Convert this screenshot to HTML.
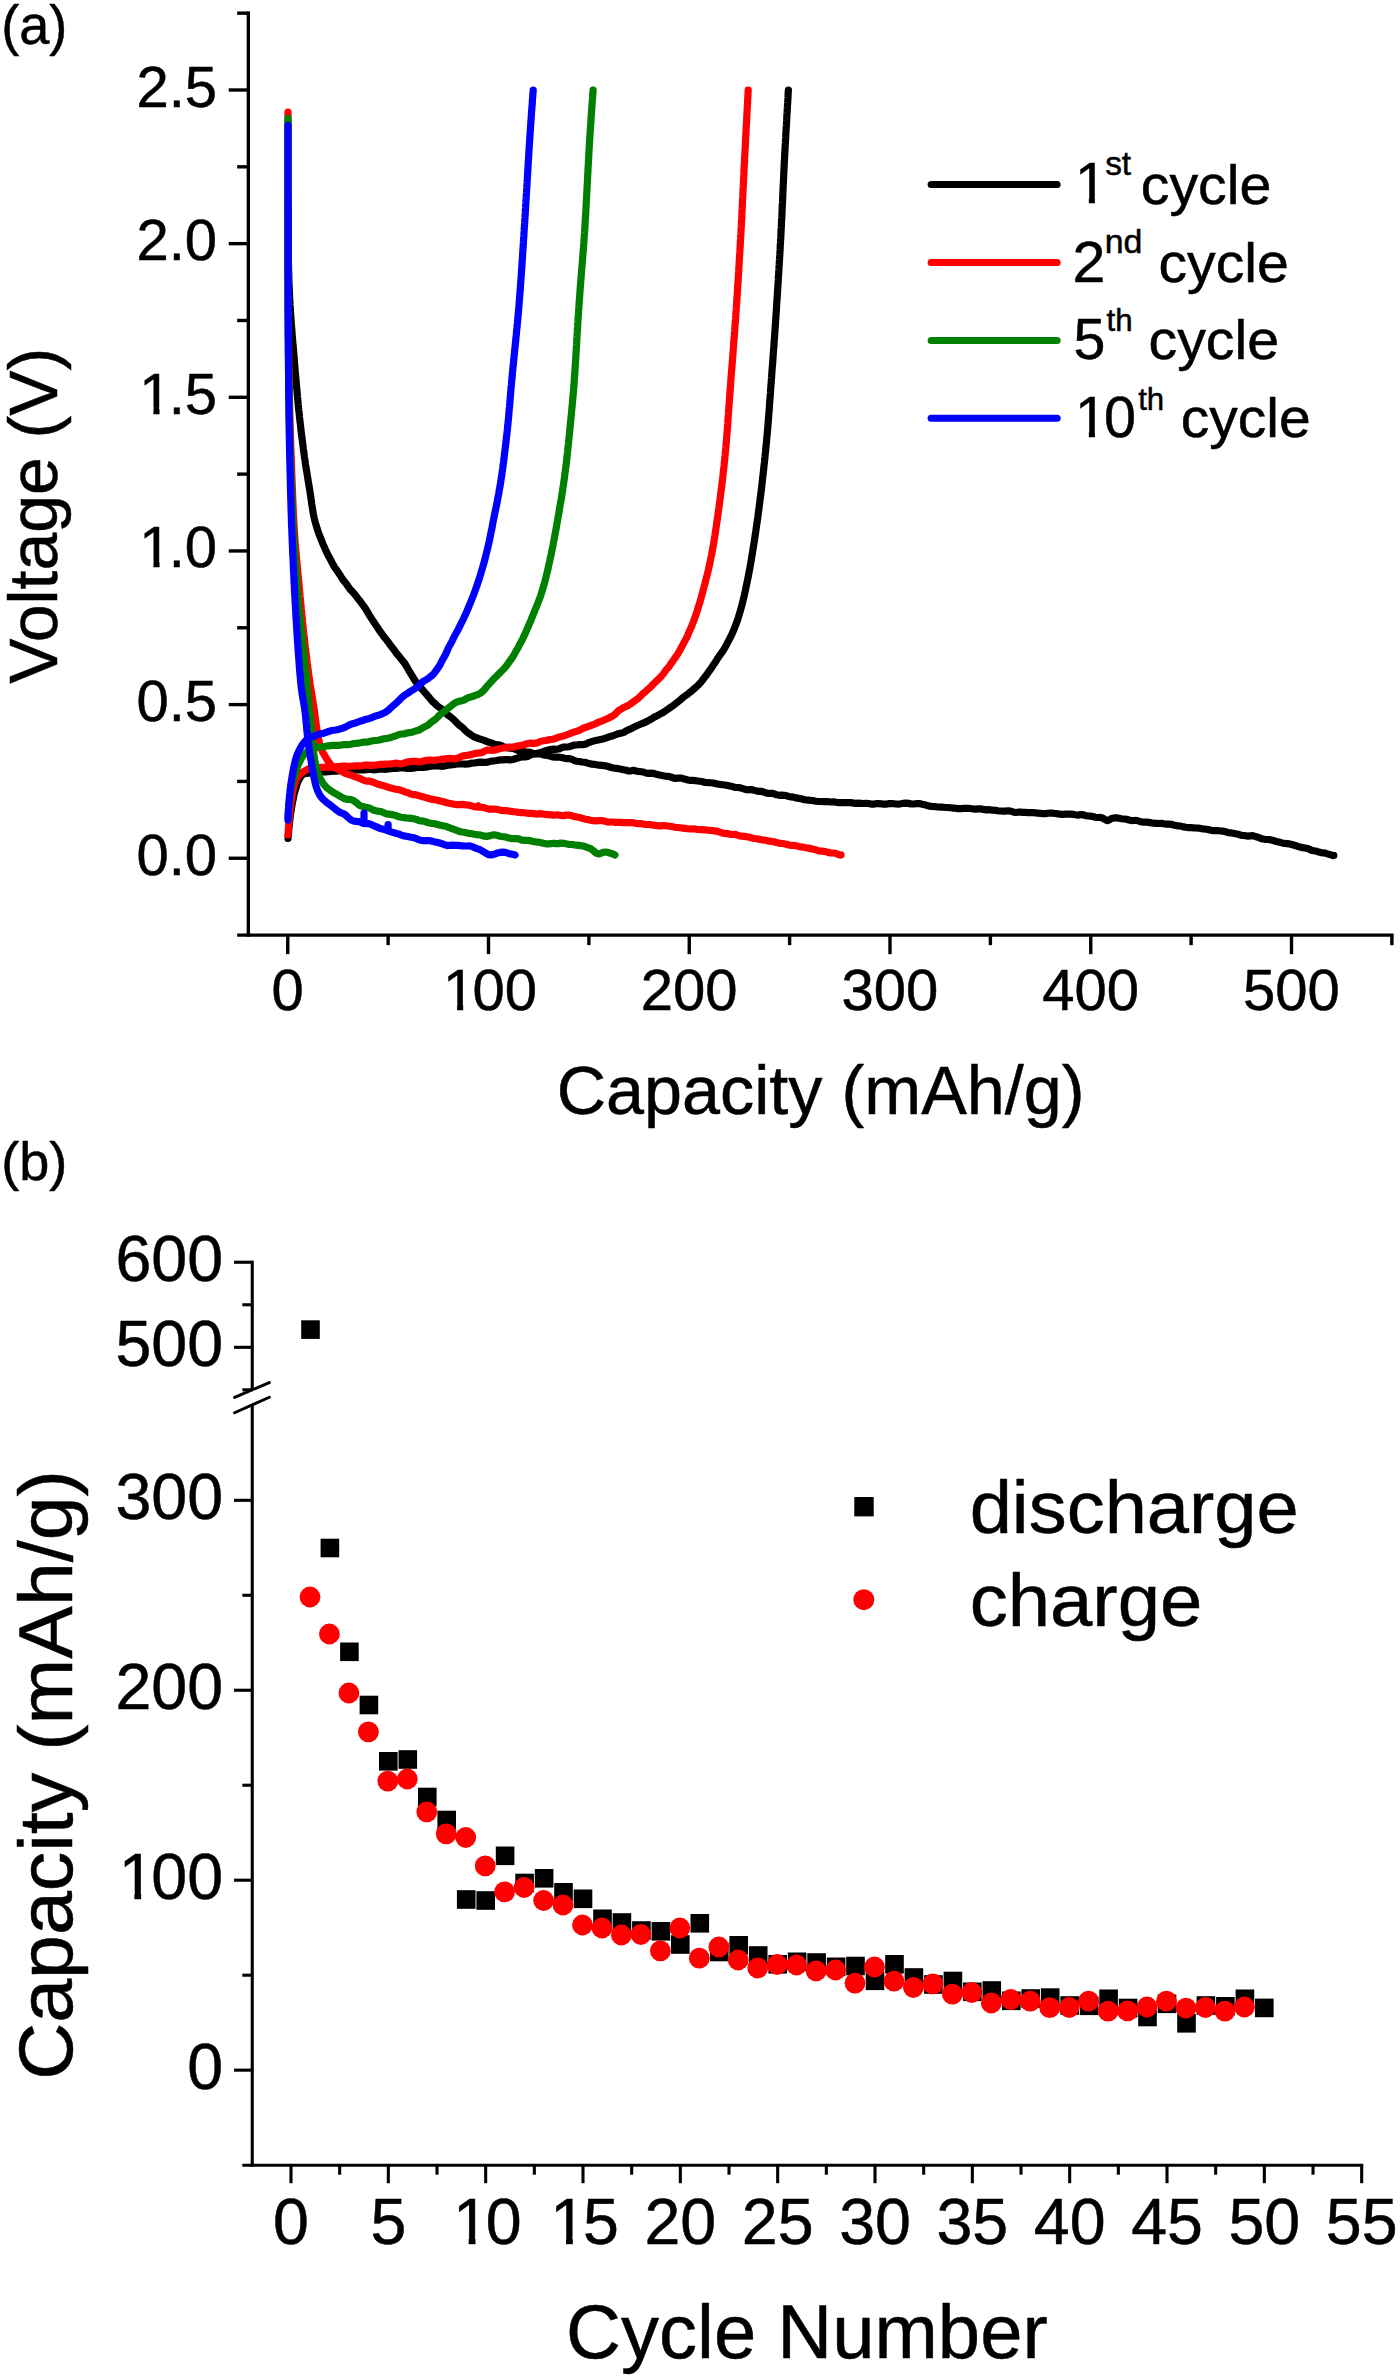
<!DOCTYPE html>
<html lang="en"><head><meta charset="utf-8"><title>Figure</title>
<style>html,body{margin:0;padding:0;background:#fff}svg{display:block}text{font-family:'Liberation Sans', Arial, Helvetica, sans-serif;fill:#000;stroke:#000;stroke-width:0.5px;}</style></head><body>
<svg width="1400" height="2379" viewBox="0 0 1400 2379">
<rect width="1400" height="2379" fill="#fff"/>
<g id="panel-a">
<text x="1.22" y="44.03" font-size="54.80" textLength="66.15" lengthAdjust="spacingAndGlyphs">(a)</text>
<g fill="none" stroke-linecap="round" stroke-linejoin="round" stroke-width="7.2">
<path d="M288.0,200.0 288.0,202.5 288.0,205.0 288.0,207.5 288.0,210.0 288.0,212.5 288.1,215.0 288.1,217.5 288.1,220.0 288.1,222.5 288.1,225.0 288.1,227.5 288.1,230.0 288.1,232.5 288.1,235.0 288.1,237.5 288.2,240.0 288.2,242.5 288.2,245.0 288.2,247.5 288.2,250.0 288.3,252.5 288.3,255.0 288.3,257.5 288.4,260.0 288.4,262.5 288.5,265.0 288.5,267.5 288.6,270.0 288.7,272.5 288.7,275.0 288.8,277.5 288.9,280.0 289.0,282.5 289.1,285.0 289.2,287.5 289.3,290.0 289.4,292.5 289.5,295.0 289.6,297.5 289.8,300.0 289.9,302.5 290.0,305.0 290.2,307.4 290.3,309.9 290.5,312.4 290.7,314.9 290.8,317.4 291.0,319.9 291.2,322.4 291.4,324.9 291.6,327.4 291.8,329.9 292.0,332.4 292.2,334.9 292.4,337.4 292.6,339.9 292.8,342.4 293.1,344.8 293.3,347.3 293.5,349.8 293.7,352.3 293.9,354.8 294.1,357.3 294.3,359.8 294.5,362.3 294.7,364.8 294.9,367.3 295.1,369.8 295.3,372.2 295.5,374.8 295.8,377.3 296.0,379.7 296.2,382.2 296.4,384.7 296.6,387.2 296.9,389.7 297.1,392.2 297.3,394.6 297.5,397.1 297.8,399.6 298.0,402.1 298.2,404.6 298.5,407.2 298.7,409.6 299.0,412.1 299.3,414.5 299.5,417.1 299.8,419.6 300.1,422.1 300.4,424.6 300.7,427.0 300.9,429.5 301.2,432.0 301.5,434.5 301.8,436.9 302.2,439.4 302.5,441.9 302.8,444.4 303.1,446.9 303.4,449.3 303.8,451.8 304.1,454.3 304.4,456.8 304.8,459.3 305.2,461.7 305.5,464.2 305.9,466.7 306.3,469.1 306.7,471.5 307.1,474.0 307.5,476.5 307.9,479.0 308.3,481.5 308.7,483.9 309.1,486.3 309.5,488.8 309.9,491.3 310.3,493.8 310.7,496.2 311.0,498.7 311.4,501.3 311.7,503.8 312.1,506.3 312.5,508.8 312.9,511.2 313.3,513.6 313.8,516.1 314.3,518.5 314.9,520.9 315.6,523.4 316.3,525.9 317.0,528.2 317.8,530.5 318.6,532.9 319.5,535.3 320.4,537.6 321.3,539.8 322.2,542.2 323.2,544.7 324.2,546.8 325.2,549.1 326.2,551.4 327.3,553.6 328.4,555.8 329.5,557.8 330.7,559.9 331.9,562.3 333.2,564.9 334.5,567.1 335.8,568.8 337.1,570.7 338.5,572.8 339.9,574.9 341.3,577.2 342.8,579.5 344.3,581.4 345.8,583.2 347.3,585.3 348.8,587.6 350.3,589.5 351.9,591.1 353.5,592.9 355.1,594.8 356.7,596.9 358.3,599.0 359.9,600.9 361.4,603.0 362.8,604.9 364.2,606.7 365.6,608.8 366.9,611.1 368.3,613.4 369.6,615.6 370.9,617.6 372.2,619.6 373.5,621.6 374.9,623.6 376.3,625.8 377.7,627.8 379.1,630.0 380.5,632.1 382.0,634.0 383.4,636.0 384.9,638.0 386.4,639.8 387.9,641.7 389.4,643.8 390.9,645.9 392.4,647.7 394.0,649.7 395.6,652.1 397.2,654.2 398.8,656.0 400.4,658.0 401.9,659.9 403.4,661.7 404.9,663.6 406.2,665.8 407.5,668.1 408.7,670.2 409.9,672.2 411.1,674.3 412.4,676.3 413.7,678.5 415.2,680.8 416.7,682.9 418.2,684.9 419.8,686.9 421.4,688.5 423.0,690.3 424.6,692.2 426.3,694.2 428.0,696.2 429.7,698.2 431.4,700.3 433.2,702.2 435.0,703.6 436.8,705.4 438.7,707.0 440.6,708.1 442.5,709.6 444.4,711.7 446.2,713.7 448.1,715.2 450.0,716.5 451.9,718.0 453.7,719.7 455.6,721.5 457.4,723.4 459.2,725.1 461.1,726.5 463.0,728.1 464.9,730.1 466.8,731.9 468.8,733.3 470.8,734.7 472.8,736.1 474.9,737.2 477.1,738.0 479.4,738.8 481.8,739.6 484.2,740.4 486.6,741.4 489.0,742.3 491.4,742.9 493.8,743.8 496.2,744.6 498.6,744.8 501.0,745.5 503.4,746.7 505.8,747.4 508.2,747.9 510.6,748.2 513.1,748.5 515.5,749.4 518.0,750.4 520.4,751.0 522.8,751.5 525.3,752.0 527.7,752.0 530.2,752.4 532.7,753.4 535.1,753.8 537.6,753.6 540.0,753.8 542.5,754.6 545.0,755.2 547.4,755.5 549.9,756.1 552.4,756.9 554.8,757.1 557.3,757.0 559.8,757.3 562.3,757.6 564.7,758.3 567.2,758.6 569.6,758.6 572.1,759.4 574.5,760.7 577.0,761.2 579.4,761.5 581.9,762.0 584.3,762.3 586.8,762.8 589.2,763.6 591.7,764.2 594.1,764.3 596.6,764.7 599.1,765.2 601.5,765.4 604.0,765.6 606.4,766.0 608.9,766.7 611.4,767.5 613.8,768.0 616.3,768.4 618.8,768.8 621.2,769.3 623.7,769.8 626.2,770.3 628.6,771.0 631.1,770.8 633.6,770.3 636.0,770.9 638.5,771.5 641.0,771.7 643.4,772.0 645.9,773.0 648.4,773.4 650.8,773.1 653.3,773.3 655.8,774.1 658.2,774.7 660.7,775.3 663.1,775.8 665.6,776.1 668.1,776.3 670.6,776.9 673.0,777.9 675.5,778.4 678.0,778.1 680.5,778.0 682.9,778.6 685.4,779.3 687.9,780.0 690.3,780.4 692.8,780.4 695.3,780.6 697.8,781.0 700.3,781.3 702.7,781.8 705.2,782.5 707.7,782.7 710.2,782.7 712.6,783.0 715.1,783.4 717.6,784.0 720.0,784.4 722.5,784.7 725.0,785.0 727.4,785.5 729.9,786.0 732.3,786.6 734.8,787.3 737.2,787.5 739.7,787.7 742.2,788.4 744.6,789.2 747.1,789.8 749.6,789.7 752.0,789.7 754.5,790.4 757.0,791.1 759.4,791.3 761.9,791.4 764.3,792.3 766.8,793.1 769.3,793.4 771.8,793.4 774.2,793.8 776.7,794.8 779.2,795.3 781.6,795.2 784.1,795.3 786.5,795.8 789.0,796.4 791.4,796.9 793.9,797.3 796.3,797.9 798.8,798.4 801.2,798.8 803.7,799.5 806.2,800.0 808.6,800.1 811.1,800.5 813.6,800.7 816.1,801.2 818.6,801.5 821.1,801.5 823.6,801.6 826.1,801.5 828.6,801.7 831.1,802.0 833.6,801.9 836.1,802.2 838.6,802.7 841.1,802.7 843.5,802.7 846.0,802.7 848.5,802.6 851.0,802.6 853.5,803.2 856.0,803.4 858.5,803.2 861.0,803.3 863.5,803.5 866.0,803.3 868.5,803.5 871.0,804.1 873.5,804.1 876.0,803.7 878.5,803.6 881.0,803.8 883.5,804.1 886.0,804.1 888.5,803.7 891.0,803.5 893.5,803.7 896.0,804.0 898.5,804.1 901.0,803.8 903.5,803.3 906.0,803.1 908.5,803.4 911.0,803.9 913.5,804.0 916.0,803.7 918.5,803.5 921.0,803.9 923.3,804.6 925.7,805.1 928.2,805.8 930.7,806.4 933.2,806.5 935.6,806.7 938.1,807.0 940.6,807.1 943.1,807.2 945.6,807.5 948.1,807.5 950.6,807.8 953.1,808.1 955.6,808.2 958.1,808.6 960.6,808.7 963.1,808.4 965.6,808.4 968.1,808.3 970.6,808.5 973.1,809.0 975.6,809.1 978.1,808.9 980.6,808.8 983.1,809.4 985.5,809.8 988.0,809.7 990.5,809.9 993.0,810.2 995.5,810.4 998.0,810.8 1000.5,811.0 1003.0,811.2 1005.5,811.1 1008.0,810.8 1010.5,811.1 1013.0,811.9 1015.5,812.5 1018.0,812.2 1020.5,812.2 1023.0,812.4 1025.5,812.4 1028.0,812.6 1030.5,812.6 1033.0,812.5 1035.5,812.9 1038.0,813.1 1040.5,813.3 1043.0,813.7 1045.4,813.6 1047.9,813.3 1050.4,813.0 1052.9,813.2 1055.4,813.5 1057.9,813.9 1060.4,814.3 1062.9,814.3 1065.4,814.2 1067.9,814.2 1070.4,814.2 1072.9,814.3 1075.4,814.8 1077.9,815.1 1080.4,814.6 1082.9,814.7 1085.4,815.5 1087.9,816.0 1090.4,816.1 1092.8,816.5 1095.3,817.2 1097.8,817.5 1100.2,817.4 1102.6,818.0 1104.8,819.4 1107.1,820.7 1109.3,819.8 1111.5,818.5 1114.0,817.9 1116.5,817.9 1119.0,818.3 1121.5,818.7 1124.0,819.0 1126.5,819.3 1128.9,820.0 1131.4,820.6 1133.9,820.5 1136.4,820.4 1138.9,821.1 1141.3,821.9 1143.8,822.2 1146.3,822.2 1148.8,822.4 1151.3,822.9 1153.8,823.2 1156.2,823.3 1158.7,823.5 1161.2,823.4 1163.7,823.8 1166.2,824.2 1168.6,824.2 1171.1,824.3 1173.6,825.0 1176.1,825.6 1178.6,825.8 1181.0,826.2 1183.5,826.9 1186.0,827.3 1188.5,827.6 1191.0,827.7 1193.4,827.8 1195.9,828.0 1198.4,828.1 1200.9,828.5 1203.4,829.0 1205.8,829.2 1208.3,829.5 1210.8,830.2 1213.3,830.7 1215.8,830.6 1218.2,830.7 1220.7,831.0 1223.2,831.2 1225.7,831.8 1228.2,832.6 1230.6,832.8 1233.1,833.2 1235.6,833.7 1238.1,834.2 1240.5,835.1 1243.0,835.5 1245.4,835.7 1247.9,836.1 1250.3,835.9 1252.8,835.7 1255.2,836.4 1257.7,837.2 1260.1,838.1 1262.6,839.0 1265.0,839.3 1267.5,839.5 1269.9,839.7 1272.4,840.3 1274.8,841.0 1277.3,841.7 1279.7,842.2 1282.2,842.9 1284.6,843.4 1287.1,843.6 1289.5,843.9 1291.9,844.5 1294.4,845.3 1296.8,846.0 1299.2,846.8 1301.6,847.4 1304.1,847.9 1306.5,848.3 1308.9,849.0 1311.3,850.2 1313.8,850.8 1316.2,851.1 1318.6,852.0 1321.0,852.6 1323.4,852.8 1325.9,853.3 1328.3,854.1 1330.7,854.8 1333.1,855.6 1333.8,855.5" stroke="#000"/>
<path d="M288.0,838.5 288.2,836.0 288.5,833.5 288.7,831.0 288.9,828.6 289.2,826.1 289.4,823.6 289.7,821.0 290.0,818.6 290.3,816.1 290.6,813.6 291.0,811.2 291.4,808.7 291.8,806.2 292.2,803.7 292.7,801.3 293.2,798.9 293.7,796.4 294.2,793.9 294.9,791.4 295.5,789.2 296.2,786.9 296.9,784.5 297.8,782.0 298.8,779.9 300.1,777.7 301.7,775.5 303.6,774.0 305.9,773.5 308.3,773.2 310.8,772.7 313.3,772.6 315.8,772.5 318.3,772.2 320.8,771.8 323.3,771.9 325.8,771.8 328.3,771.7 330.8,771.5 333.3,771.2 335.8,771.2 338.3,770.9 340.8,770.5 343.3,770.5 345.7,770.5 348.2,769.7 350.7,769.0 353.2,769.3 355.7,769.8 358.2,769.8 360.7,769.7 363.2,769.8 365.7,769.8 368.2,769.4 370.7,769.4 373.2,769.8 375.7,769.7 378.2,769.2 380.7,768.9 383.2,769.1 385.7,769.3 388.2,769.0 390.7,768.6 393.2,768.5 395.7,768.4 398.2,768.1 400.7,767.8 403.2,767.8 405.7,768.1 408.2,768.4 410.7,768.5 413.2,768.1 415.7,767.6 418.2,767.4 420.7,767.5 423.2,767.4 425.7,767.1 428.2,766.6 430.7,766.2 433.2,765.9 435.7,765.7 438.1,765.9 440.6,766.2 443.1,766.3 445.6,765.8 448.1,765.3 450.6,764.9 453.1,764.7 455.6,764.3 458.1,763.9 460.6,764.0 463.1,764.0 465.5,764.1 468.0,764.0 470.5,763.4 473.0,763.0 475.5,762.8 478.0,762.4 480.5,762.2 483.0,762.3 485.4,762.3 487.9,762.1 490.4,761.4 492.9,761.0 495.4,760.7 497.9,760.3 500.4,759.9 502.9,759.9 505.4,759.7 507.8,759.7 510.3,759.9 512.8,759.5 515.3,758.7 517.8,758.0 520.2,757.3 522.7,757.0 525.1,756.9 527.5,756.4 529.9,755.3 532.3,754.3 534.7,753.7 537.1,753.3 539.5,752.9 541.9,752.1 544.4,751.3 546.8,750.5 549.3,749.8 551.7,749.3 554.2,749.2 556.6,749.3 559.1,749.0 561.5,747.7 564.0,747.0 566.5,747.0 568.9,746.7 571.4,746.0 573.8,745.2 576.3,745.0 578.7,744.7 581.2,744.5 583.6,744.6 586.1,744.0 588.5,742.7 591.0,741.8 593.4,741.1 595.8,740.4 598.2,739.9 600.6,739.4 603.0,738.9 605.4,738.2 607.8,737.3 610.1,736.6 612.5,736.0 614.9,735.0 617.2,734.1 619.6,733.5 621.9,733.0 624.3,732.1 626.6,730.7 628.9,729.6 631.3,728.6 633.6,727.4 635.8,726.3 638.1,725.3 640.4,724.3 642.6,723.4 644.9,722.4 647.1,721.4 649.3,720.2 651.6,718.8 653.7,717.4 655.9,716.4 658.1,715.3 660.2,714.0 662.4,712.9 664.5,711.6 666.6,710.1 668.6,708.7 670.7,707.3 672.7,705.9 674.7,704.4 676.7,702.8 678.7,701.2 680.7,699.6 682.7,697.8 684.7,696.2 686.6,695.0 688.5,693.5 690.5,691.8 692.4,690.3 694.2,688.7 696.1,687.1 697.8,685.5 699.5,683.7 701.2,681.9 702.8,679.8 704.3,677.7 705.8,675.9 707.3,673.8 708.7,671.7 710.2,669.8 711.6,667.7 713.0,665.6 714.4,663.5 715.8,661.4 717.2,659.1 718.6,657.0 720.0,655.0 721.4,653.1 722.8,651.2 724.1,649.1 725.4,646.7 726.7,644.4 727.8,642.2 729.0,640.0 730.1,637.8 731.2,635.7 732.2,633.5 733.2,631.3 734.2,628.9 735.1,626.5 736.0,624.2 736.9,621.9 737.7,619.5 738.5,617.0 739.2,614.6 739.9,612.2 740.6,609.8 741.3,607.4 741.9,605.1 742.5,602.7 743.1,600.3 743.7,597.9 744.3,595.5 744.8,593.0 745.4,590.5 745.9,587.9 746.4,585.5 746.9,583.1 747.4,580.6 747.9,578.2 748.4,575.7 748.9,573.3 749.3,570.8 749.8,568.4 750.2,565.9 750.7,563.4 751.1,561.0 751.5,558.6 751.9,556.1 752.3,553.6 752.7,551.1 753.1,548.7 753.5,546.2 753.9,543.7 754.3,541.3 754.7,538.9 755.0,536.4 755.4,533.8 755.8,531.3 756.1,528.8 756.5,526.4 756.8,523.9 757.2,521.5 757.5,519.0 757.9,516.5 758.2,514.1 758.5,511.6 758.9,509.1 759.2,506.6 759.5,504.1 759.8,501.6 760.1,499.1 760.5,496.6 760.8,494.1 761.1,491.7 761.4,489.3 761.7,486.8 762.0,484.2 762.3,481.7 762.5,479.2 762.8,476.8 763.1,474.3 763.4,471.8 763.7,469.3 763.9,466.9 764.2,464.4 764.5,461.9 764.7,459.4 765.0,456.9 765.2,454.4 765.5,451.9 765.7,449.5 766.0,447.0 766.2,444.5 766.5,442.0 766.7,439.5 766.9,437.0 767.1,434.6 767.4,432.0 767.6,429.5 767.8,427.1 768.0,424.6 768.2,422.1 768.4,419.6 768.6,417.1 768.8,414.6 769.0,412.1 769.2,409.6 769.4,407.1 769.5,404.6 769.7,402.1 769.9,399.6 770.1,397.2 770.3,394.7 770.5,392.2 770.6,389.7 770.8,387.2 771.0,384.7 771.2,382.2 771.4,379.7 771.6,377.2 771.7,374.7 771.9,372.2 772.1,369.8 772.3,367.3 772.5,364.7 772.7,362.2 772.9,359.8 773.0,357.3 773.2,354.8 773.4,352.3 773.6,349.8 773.8,347.3 774.0,344.8 774.1,342.3 774.3,339.8 774.5,337.3 774.7,334.8 774.8,332.3 775.0,329.8 775.2,327.3 775.4,324.9 775.5,322.4 775.7,319.9 775.9,317.4 776.0,314.9 776.2,312.4 776.4,309.9 776.5,307.4 776.7,304.9 776.8,302.4 777.0,299.9 777.2,297.4 777.3,294.9 777.5,292.4 777.6,289.9 777.8,287.4 778.0,284.9 778.1,282.4 778.3,280.0 778.4,277.4 778.6,274.9 778.7,272.4 778.9,270.0 779.0,267.5 779.2,265.0 779.3,262.5 779.5,260.0 779.6,257.5 779.8,255.0 779.9,252.5 780.1,250.0 780.2,247.5 780.3,245.0 780.5,242.5 780.6,240.0 780.8,237.5 780.9,235.0 781.0,232.5 781.1,230.0 781.3,227.5 781.4,225.0 781.5,222.5 781.6,220.0 781.8,217.5 781.9,215.0 782.0,212.5 782.1,210.1 782.2,207.6 782.3,205.1 782.5,202.5 782.6,200.1 782.7,197.6 782.8,195.1 782.9,192.6 783.0,190.1 783.1,187.6 783.2,185.1 783.4,182.6 783.5,180.1 783.6,177.6 783.7,175.1 783.8,172.6 783.9,170.1 784.1,167.6 784.2,165.1 784.3,162.6 784.4,160.1 784.6,157.6 784.7,155.1 784.8,152.6 785.0,150.1 785.1,147.6 785.2,145.1 785.4,142.7 785.5,140.2 785.7,137.7 785.8,135.2 785.9,132.7 786.1,130.1 786.2,127.6 786.4,125.2 786.5,122.7 786.7,120.2 786.8,117.7 786.9,115.2 787.1,112.7 787.2,110.2 787.4,107.7 787.5,105.2 787.7,102.7 787.8,100.2 788.0,97.7 788.1,95.2 788.2,92.7 788.4,90.2 788.4,90.0" stroke="#000"/>
<path d="M288.0,112.0 288.0,114.5 288.0,117.0 288.0,119.5 288.0,122.0 288.0,124.5 288.0,127.0 288.0,129.5 288.0,132.0 288.0,134.5 288.0,137.0 288.0,139.5 288.0,142.0 288.0,144.5 288.0,147.0 288.0,149.5 288.0,152.0 288.0,154.5 288.0,157.0 288.0,159.5 288.0,162.0 288.0,164.5 288.0,167.0 288.0,169.5 288.0,172.0 288.0,174.5 288.0,177.0 288.0,179.5 288.0,182.0 288.0,184.5 288.0,187.0 288.0,189.5 288.0,192.0 288.0,194.5 288.0,197.0 288.0,199.5 288.0,202.0 288.0,204.5 288.0,207.0 288.0,209.5 288.0,212.0 288.0,214.5 288.0,217.0 288.0,219.5 288.0,222.0 288.0,224.5 288.0,227.0 288.0,229.5 288.0,232.0 288.0,234.5 288.0,237.0 288.0,239.5 288.0,242.0 288.0,244.5 288.0,247.0 288.0,249.5 288.0,252.0 288.0,254.5 288.0,257.0 288.0,259.5 288.0,262.0 288.0,264.5 288.0,267.0 288.0,269.5 288.0,272.0 288.1,274.5 288.1,277.0 288.1,279.5 288.1,282.0 288.1,284.5 288.1,287.0 288.1,289.5 288.1,292.0 288.1,294.5 288.1,297.0 288.2,299.5 288.2,302.0 288.2,304.5 288.2,307.0 288.2,309.5 288.2,312.0 288.3,314.5 288.3,317.0 288.3,319.5 288.3,322.0 288.3,324.5 288.4,327.0 288.4,329.5 288.4,332.0 288.4,334.5 288.5,337.0 288.5,339.5 288.5,342.0 288.6,344.5 288.6,347.0 288.6,349.5 288.7,352.0 288.7,354.5 288.7,357.0 288.8,359.5 288.8,362.0 288.8,364.5 288.9,367.0 288.9,369.5 289.0,372.0 289.0,374.5 289.0,377.0 289.1,379.5 289.1,382.0 289.2,384.5 289.2,387.0 289.3,389.5 289.3,392.0 289.4,394.5 289.4,397.0 289.5,399.5 289.5,402.0 289.6,404.5 289.7,407.0 289.7,409.5 289.8,412.0 289.8,414.5 289.9,417.0 290.0,419.5 290.0,422.0 290.1,424.5 290.2,427.0 290.3,429.5 290.3,432.0 290.4,434.5 290.5,437.0 290.6,439.5 290.7,442.0 290.7,444.5 290.8,447.0 290.9,449.5 291.0,452.0 291.1,454.5 291.2,457.0 291.3,459.5 291.4,462.0 291.5,464.5 291.6,467.0 291.6,469.5 291.7,472.0 291.8,474.4 291.9,476.9 292.0,479.5 292.1,482.0 292.2,484.5 292.3,486.9 292.4,489.4 292.5,491.9 292.6,494.4 292.7,496.9 292.8,499.4 292.9,501.9 293.0,504.4 293.1,506.9 293.2,509.4 293.3,511.9 293.4,514.4 293.6,516.9 293.7,519.4 293.8,521.9 294.0,524.4 294.1,526.9 294.3,529.4 294.4,531.9 294.6,534.4 294.8,536.9 294.9,539.4 295.1,541.9 295.3,544.3 295.5,546.8 295.7,549.4 295.9,551.8 296.2,554.3 296.4,556.8 296.6,559.3 296.8,561.8 297.1,564.3 297.3,566.8 297.5,569.3 297.8,571.8 298.0,574.2 298.2,576.7 298.5,579.2 298.7,581.7 299.0,584.2 299.2,586.7 299.4,589.2 299.7,591.6 299.9,594.1 300.1,596.6 300.4,599.2 300.6,601.7 300.8,604.2 301.1,606.7 301.3,609.1 301.6,611.6 301.8,614.1 302.0,616.5 302.3,619.0 302.5,621.6 302.8,624.1 303.1,626.5 303.3,628.9 303.6,631.4 303.8,633.9 304.1,636.4 304.4,638.9 304.7,641.5 304.9,644.0 305.2,646.4 305.5,648.9 305.8,651.4 306.1,653.9 306.4,656.3 306.7,658.8 307.0,661.3 307.3,663.7 307.7,666.2 308.0,668.7 308.3,671.2 308.6,673.7 309.0,676.2 309.3,678.6 309.7,681.1 310.0,683.5 310.4,686.1 310.8,688.6 311.2,691.0 311.6,693.4 312.0,695.9 312.4,698.3 312.8,700.7 313.2,703.2 313.6,705.7 314.0,708.2 314.3,710.6 314.7,713.1 315.0,715.6 315.3,718.1 315.6,720.6 316.0,723.1 316.3,725.6 316.7,728.0 317.1,730.5 317.5,733.0 317.9,735.5 318.3,737.9 318.8,740.4 319.4,742.8 320.1,745.4 320.9,747.7 321.8,750.0 322.8,752.3 324.0,754.4 325.2,756.4 326.4,758.5 327.8,760.7 329.3,762.8 331.0,765.0 332.9,766.7 335.0,767.9 337.3,768.9 339.5,769.9 341.7,771.3 343.9,772.6 346.1,773.6 348.3,774.3 350.6,775.0 353.0,776.0 355.3,776.9 357.7,777.6 360.1,778.6 362.5,779.7 364.9,780.7 367.3,781.1 369.7,781.2 372.1,781.8 374.5,782.7 376.9,783.8 379.3,784.6 381.7,785.2 384.1,785.8 386.5,786.7 388.9,787.5 391.3,788.1 393.7,788.8 396.0,789.3 398.5,789.6 400.9,790.2 403.3,791.2 405.7,792.1 408.1,792.8 410.5,793.9 412.9,794.6 415.4,794.7 417.8,795.3 420.2,796.1 422.6,796.7 425.1,797.4 427.5,798.0 429.9,798.8 432.3,799.4 434.7,799.7 437.1,800.2 439.5,800.8 442.0,801.4 444.4,802.0 446.8,802.7 449.2,803.3 451.7,803.7 454.2,804.3 456.6,804.7 459.1,804.6 461.6,804.4 464.1,804.6 466.6,805.0 469.0,805.2 471.5,805.9 474.0,806.6 476.5,807.0 479.0,807.1 481.4,807.2 483.9,807.6 486.4,808.4 488.9,809.1 491.4,809.1 493.8,809.0 496.3,809.3 498.8,809.8 501.3,810.5 503.7,810.7 506.2,810.6 508.7,811.0 511.2,811.4 513.7,811.7 516.2,812.0 518.6,812.4 521.1,812.7 523.6,812.7 526.1,813.0 528.6,813.4 531.1,813.4 533.6,813.6 536.0,814.1 538.5,813.9 541.0,813.7 543.5,814.1 546.0,814.4 548.5,814.6 551.0,814.8 553.5,815.1 556.0,815.0 558.5,814.9 561.0,815.5 563.5,815.7 566.0,815.1 568.5,815.0 570.9,815.5 573.4,816.2 575.8,816.8 578.3,817.3 580.7,817.8 583.1,818.6 585.6,819.2 588.0,819.6 590.5,820.2 593.0,820.7 595.5,820.8 598.0,820.7 600.5,820.6 602.9,820.7 605.4,821.4 607.9,822.1 610.4,822.0 612.9,822.0 615.4,822.4 617.9,822.4 620.4,822.4 622.9,822.6 625.4,822.6 627.9,822.6 630.4,822.6 632.9,822.7 635.4,823.2 637.9,823.7 640.4,823.6 642.8,823.9 645.3,824.5 647.8,824.5 650.3,824.6 652.8,825.0 655.3,825.4 657.8,825.8 660.3,825.8 662.7,825.7 665.2,825.7 667.7,826.0 670.2,826.3 672.7,826.8 675.2,827.3 677.7,827.5 680.2,827.8 682.6,828.1 685.1,828.4 687.6,828.7 690.1,829.0 692.6,828.9 695.1,829.0 697.6,829.5 700.1,829.7 702.6,829.6 705.0,829.8 707.5,830.1 710.0,830.3 712.5,830.6 715.0,830.9 717.5,831.4 719.9,832.2 722.4,833.0 724.9,833.5 727.3,833.6 729.8,834.1 732.3,834.5 734.7,834.3 737.2,835.0 739.6,835.9 742.1,836.2 744.5,836.4 747.0,836.8 749.4,837.3 751.9,837.9 754.3,838.5 756.8,838.8 759.2,839.3 761.7,839.8 764.1,840.0 766.6,840.5 769.1,841.2 771.5,841.4 774.0,841.8 776.4,842.5 778.9,843.1 781.4,843.5 783.8,843.7 786.3,844.2 788.7,845.0 791.2,845.4 793.7,845.4 796.1,845.7 798.6,846.4 801.0,847.0 803.5,847.2 806.0,847.7 808.4,848.1 810.9,848.6 813.3,849.3 815.8,849.8 818.2,850.7 820.7,851.2 823.1,851.2 825.6,851.6 828.0,852.4 830.5,852.9 832.9,853.0 835.4,853.3 837.8,854.3 840.3,855.1 841.0,855.0" stroke="#f00"/>
<path d="M288.0,835.0 288.2,832.5 288.3,830.0 288.5,827.5 288.7,825.0 288.9,822.5 289.1,820.0 289.3,817.6 289.5,815.1 289.8,812.6 290.1,810.1 290.4,807.7 290.7,805.2 291.0,802.6 291.4,800.2 291.8,797.7 292.2,795.3 292.7,792.9 293.2,790.4 293.8,787.9 294.4,785.5 295.1,783.1 296.0,780.7 296.9,778.5 298.1,776.4 299.7,774.7 301.5,772.8 303.6,771.5 305.8,770.4 308.1,768.9 310.5,768.4 313.0,768.5 315.5,768.4 318.0,768.0 320.5,767.4 323.0,767.3 325.5,767.2 328.0,767.1 330.5,767.3 332.9,767.3 335.4,766.9 337.9,766.5 340.4,766.4 342.9,766.1 345.4,766.0 347.9,766.4 350.4,766.4 352.9,766.1 355.4,765.8 357.9,765.8 360.4,765.9 362.9,765.5 365.4,765.0 367.9,765.1 370.4,765.4 372.9,765.4 375.4,765.2 377.9,764.7 380.4,764.4 382.9,764.4 385.4,764.2 387.9,764.0 390.4,763.9 392.9,763.6 395.3,763.2 397.8,763.4 400.3,764.0 402.8,763.5 405.3,762.5 407.8,761.9 410.3,761.6 412.8,761.4 415.3,761.3 417.8,761.6 420.3,761.8 422.8,761.2 425.2,760.6 427.7,760.2 430.2,760.0 432.7,760.3 435.2,760.3 437.7,759.8 440.2,759.5 442.7,759.1 445.2,758.8 447.6,758.6 450.1,758.4 452.6,758.7 455.1,758.8 457.6,758.2 460.1,757.1 462.5,756.0 464.9,755.6 467.3,755.4 469.8,754.9 472.2,754.3 474.6,753.6 477.1,753.1 479.5,752.9 482.0,752.5 484.4,751.2 486.8,750.2 489.3,750.1 491.8,750.3 494.2,750.1 496.7,749.6 499.1,748.8 501.6,748.3 504.1,747.9 506.5,747.4 509.0,747.2 511.5,747.2 513.9,746.9 516.4,746.3 518.9,745.7 521.3,745.4 523.8,744.8 526.2,744.0 528.7,743.4 531.2,743.2 533.6,743.3 536.1,743.2 538.5,742.3 541.0,741.2 543.4,740.8 545.8,740.5 548.3,739.9 550.7,739.5 553.1,739.2 555.6,738.4 558.0,737.4 560.4,736.7 562.8,736.2 565.2,735.4 567.6,734.5 569.9,733.6 572.3,732.7 574.6,731.9 577.0,731.2 579.3,730.4 581.6,729.1 583.9,728.0 586.2,727.2 588.6,726.3 590.9,725.5 593.2,724.7 595.6,723.7 597.9,722.5 600.2,721.7 602.5,720.8 604.8,719.8 607.1,718.8 609.4,717.7 611.5,716.5 613.6,715.4 615.5,713.9 617.3,711.9 619.1,710.3 621.2,709.0 623.4,707.7 625.6,706.6 627.9,705.6 630.0,704.3 632.1,702.8 634.2,701.2 636.2,699.8 638.1,698.5 640.0,696.7 641.9,694.7 643.7,693.0 645.6,691.5 647.4,689.8 649.3,688.2 651.1,686.5 652.9,684.5 654.7,682.7 656.4,681.0 658.2,679.4 659.9,677.7 661.5,676.0 663.2,674.0 664.8,671.7 666.3,669.6 667.9,667.9 669.4,666.1 670.8,663.9 672.3,661.8 673.7,659.8 675.2,657.7 676.5,655.7 677.9,653.7 679.2,651.4 680.5,649.2 681.7,646.8 682.9,644.7 684.0,642.6 685.2,640.3 686.3,638.3 687.4,636.1 688.4,633.6 689.4,631.2 690.4,629.0 691.4,626.9 692.3,624.5 693.3,622.0 694.1,619.7 695.0,617.4 695.8,615.0 696.6,612.7 697.4,610.2 698.1,607.9 698.8,605.5 699.6,603.2 700.3,600.9 700.9,598.5 701.6,596.0 702.3,593.6 702.9,591.1 703.6,588.7 704.2,586.3 704.9,583.9 705.5,581.4 706.1,579.0 706.7,576.7 707.3,574.3 707.9,571.8 708.5,569.3 709.0,566.8 709.6,564.4 710.1,562.0 710.6,559.5 711.1,557.1 711.6,554.7 712.1,552.3 712.5,549.8 712.9,547.2 713.4,544.8 713.8,542.4 714.2,539.9 714.6,537.4 715.0,535.0 715.3,532.6 715.7,530.1 716.1,527.6 716.4,525.1 716.8,522.6 717.2,520.1 717.5,517.8 717.9,515.3 718.2,512.7 718.5,510.2 718.9,507.7 719.2,505.2 719.5,502.8 719.9,500.3 720.2,497.9 720.5,495.4 720.8,492.9 721.1,490.4 721.5,488.0 721.8,485.5 722.1,483.0 722.4,480.5 722.7,477.9 723.0,475.4 723.2,473.0 723.5,470.5 723.8,468.0 724.1,465.6 724.3,463.1 724.6,460.5 724.8,458.0 725.1,455.6 725.3,453.1 725.5,450.7 725.8,448.1 726.0,445.6 726.2,443.2 726.4,440.7 726.6,438.2 726.8,435.7 727.0,433.2 727.2,430.7 727.4,428.2 727.6,425.7 727.8,423.2 727.9,420.7 728.1,418.2 728.3,415.7 728.5,413.2 728.6,410.8 728.8,408.3 729.0,405.7 729.2,403.2 729.4,400.8 729.5,398.3 729.7,395.8 729.9,393.3 730.1,390.8 730.3,388.3 730.5,385.8 730.7,383.3 730.8,380.8 731.0,378.3 731.2,375.8 731.4,373.3 731.6,370.8 731.8,368.3 732.0,365.8 732.2,363.3 732.4,360.9 732.6,358.4 732.8,355.9 733.0,353.4 733.2,350.9 733.3,348.4 733.5,346.0 733.7,343.5 733.9,341.0 734.1,338.4 734.3,336.0 734.5,333.5 734.7,331.0 734.8,328.5 735.0,326.0 735.2,323.5 735.4,321.0 735.6,318.5 735.7,316.0 735.9,313.5 736.1,311.0 736.3,308.5 736.4,306.1 736.6,303.6 736.8,301.1 736.9,298.5 737.1,296.1 737.3,293.6 737.4,291.1 737.6,288.6 737.7,286.1 737.9,283.6 738.1,281.1 738.2,278.6 738.4,276.1 738.5,273.7 738.7,271.2 738.8,268.6 739.0,266.1 739.1,263.6 739.3,261.1 739.4,258.6 739.6,256.1 739.7,253.6 739.9,251.2 740.0,248.6 740.2,246.1 740.3,243.7 740.4,241.2 740.6,238.7 740.7,236.2 740.9,233.7 741.0,231.2 741.1,228.7 741.3,226.2 741.4,223.7 741.5,221.2 741.7,218.7 741.8,216.2 741.9,213.7 742.0,211.2 742.2,208.7 742.3,206.2 742.4,203.7 742.5,201.2 742.6,198.7 742.8,196.2 742.9,193.7 743.0,191.2 743.1,188.7 743.3,186.2 743.4,183.7 743.5,181.2 743.6,178.8 743.7,176.3 743.9,173.7 744.0,171.2 744.1,168.7 744.2,166.2 744.4,163.8 744.5,161.3 744.6,158.8 744.7,156.3 744.9,153.8 745.0,151.3 745.1,148.8 745.3,146.3 745.4,143.8 745.5,141.3 745.6,138.8 745.8,136.3 745.9,133.8 746.0,131.3 746.2,128.8 746.3,126.3 746.4,123.8 746.6,121.3 746.7,118.8 746.8,116.3 746.9,113.8 747.1,111.3 747.2,108.8 747.3,106.3 747.5,103.8 747.6,101.3 747.7,98.9 747.9,96.4 748.0,93.9 748.1,91.4 748.2,90.0" stroke="#f00"/>
<path d="M288.0,118.4 288.0,120.9 288.0,123.4 288.0,125.9 288.0,128.4 288.0,130.9 288.0,133.4 288.0,135.9 288.0,138.4 288.0,140.9 288.0,143.4 288.0,145.9 288.0,148.4 288.0,150.9 288.0,153.4 288.0,155.9 288.0,158.4 288.0,160.9 288.0,163.4 288.0,165.9 288.0,168.4 288.0,170.9 288.0,173.4 288.0,175.9 288.0,178.4 287.9,180.9 287.9,183.4 287.9,185.9 287.9,188.4 287.9,190.9 287.9,193.4 287.9,195.9 287.9,198.4 287.9,200.9 287.9,203.4 287.9,205.9 287.9,208.4 287.9,210.9 287.9,213.4 287.9,215.9 287.9,218.4 287.9,220.9 287.9,223.4 287.9,225.9 287.9,228.4 287.9,230.9 287.9,233.4 287.9,235.9 287.9,238.4 287.9,240.9 287.9,243.4 287.9,245.9 287.9,248.4 287.9,250.9 287.9,253.4 287.9,255.9 287.9,258.4 287.9,260.9 287.9,263.4 287.9,265.9 287.9,268.4 287.9,270.9 287.9,273.4 287.9,275.9 287.9,278.4 287.9,280.9 288.0,283.4 288.0,285.9 288.0,288.4 288.0,290.9 288.0,293.4 288.0,295.9 288.0,298.4 288.0,300.9 288.0,303.4 288.0,305.9 288.0,308.4 288.0,310.9 288.1,313.4 288.1,315.9 288.1,318.4 288.1,320.9 288.1,323.4 288.1,325.9 288.2,328.4 288.2,330.9 288.2,333.4 288.2,335.9 288.2,338.4 288.3,340.9 288.3,343.4 288.3,345.9 288.3,348.4 288.4,350.9 288.4,353.4 288.4,355.9 288.5,358.4 288.5,360.9 288.5,363.4 288.6,365.9 288.6,368.4 288.6,370.9 288.7,373.4 288.7,375.9 288.7,378.4 288.8,380.9 288.8,383.4 288.9,385.9 288.9,388.4 288.9,390.9 289.0,393.4 289.0,395.9 289.1,398.4 289.1,400.9 289.2,403.4 289.2,405.9 289.2,408.4 289.3,410.9 289.3,413.4 289.4,415.9 289.4,418.4 289.5,420.9 289.5,423.4 289.6,425.9 289.6,428.4 289.7,430.9 289.8,433.4 289.8,435.9 289.9,438.4 289.9,440.9 290.0,443.4 290.1,445.9 290.1,448.4 290.2,450.9 290.3,453.4 290.4,455.9 290.4,458.4 290.5,460.9 290.6,463.4 290.7,465.9 290.7,468.3 290.8,470.8 290.9,473.4 291.0,475.9 291.1,478.4 291.2,480.9 291.2,483.4 291.3,485.9 291.4,488.3 291.5,490.9 291.6,493.4 291.7,495.8 291.8,498.3 291.9,500.8 292.0,503.3 292.1,505.8 292.2,508.3 292.3,510.9 292.4,513.4 292.6,515.8 292.7,518.3 292.8,520.8 292.9,523.3 293.1,525.8 293.2,528.3 293.3,530.8 293.5,533.3 293.6,535.8 293.8,538.3 293.9,540.8 294.1,543.3 294.3,545.8 294.4,548.3 294.6,550.8 294.7,553.3 294.9,555.8 295.1,558.3 295.2,560.8 295.4,563.2 295.6,565.7 295.8,568.2 295.9,570.7 296.1,573.2 296.3,575.7 296.5,578.2 296.7,580.7 296.9,583.2 297.0,585.7 297.2,588.2 297.4,590.7 297.6,593.2 297.8,595.7 298.0,598.2 298.3,600.7 298.5,603.2 298.7,605.6 298.9,608.1 299.2,610.6 299.4,613.1 299.7,615.5 299.9,618.0 300.2,620.5 300.5,623.0 300.7,625.5 301.0,628.0 301.3,630.5 301.6,633.0 301.9,635.4 302.2,637.9 302.4,640.4 302.7,642.9 303.0,645.4 303.3,647.9 303.5,650.4 303.8,652.9 304.0,655.3 304.3,657.8 304.6,660.3 304.8,662.8 305.0,665.3 305.3,667.8 305.5,670.3 305.8,672.8 306.0,675.2 306.3,677.7 306.5,680.2 306.8,682.7 307.0,685.2 307.3,687.7 307.5,690.1 307.8,692.5 308.0,695.0 308.3,697.6 308.5,700.1 308.8,702.6 309.0,705.1 309.3,707.6 309.5,710.1 309.8,712.5 310.0,715.0 310.3,717.5 310.5,720.0 310.7,722.5 311.0,725.0 311.2,727.4 311.5,730.0 311.7,732.5 312.0,734.9 312.2,737.4 312.5,739.9 312.7,742.4 313.0,744.9 313.2,747.4 313.4,749.9 313.7,752.4 313.9,754.8 314.3,757.3 314.7,759.8 315.1,762.3 315.6,764.7 316.2,767.2 316.8,769.7 317.5,772.0 318.3,774.4 319.3,776.5 320.4,778.6 321.6,781.0 322.9,783.2 324.5,785.2 326.2,787.1 328.0,788.7 330.0,790.2 332.1,791.6 334.2,792.8 336.4,794.1 338.5,795.4 340.7,796.7 342.9,797.9 345.1,798.8 347.4,799.4 349.9,799.4 352.3,799.9 354.5,801.3 356.5,802.7 358.5,804.6 360.7,805.9 363.0,806.6 365.3,807.2 367.7,807.6 370.1,808.3 372.5,809.6 374.9,810.6 377.3,811.1 379.7,811.3 382.1,811.9 384.5,813.2 386.9,814.0 389.3,814.2 391.7,814.6 394.1,815.1 396.5,815.8 399.0,816.8 401.4,817.3 403.9,817.6 406.4,818.0 408.9,818.1 411.4,818.4 413.8,818.7 416.2,819.4 418.6,820.4 421.0,820.9 423.5,821.1 425.9,821.8 428.4,822.8 430.8,823.3 433.3,823.5 435.7,824.1 438.2,824.7 440.6,825.3 443.0,825.7 445.4,826.2 447.8,827.1 450.2,828.0 452.6,828.8 454.9,829.7 457.3,830.7 459.7,831.5 462.1,832.0 464.5,832.3 467.0,832.9 469.4,833.5 471.9,833.7 474.3,834.2 476.8,834.6 479.2,834.8 481.7,835.4 484.2,836.2 486.7,836.4 489.2,835.9 491.6,835.3 494.1,834.8 496.6,835.2 499.0,836.0 501.5,836.5 503.9,836.8 506.4,837.3 508.8,838.0 511.3,838.6 513.7,838.7 516.2,838.5 518.7,838.9 521.1,839.9 523.6,840.4 526.1,840.3 528.5,840.4 531.0,840.9 533.5,841.5 536.0,842.0 538.4,842.2 540.9,842.6 543.4,843.3 545.9,843.8 548.4,843.9 550.9,843.7 553.4,843.3 555.9,843.6 558.4,843.6 560.9,843.1 563.4,843.3 565.9,843.8 568.4,844.3 570.9,844.5 573.4,844.7 575.9,845.2 578.3,845.4 580.8,845.6 583.3,846.0 585.7,846.8 587.9,847.7 590.1,848.4 592.1,849.6 594.1,851.4 596.2,853.1 598.5,854.0 601.0,853.3 603.3,852.3 605.8,852.0 608.2,852.5 610.6,853.3 613.0,854.0 615.0,855.0" stroke="#008000"/>
<path d="M288.0,818.0 288.2,815.5 288.3,813.0 288.5,810.5 288.6,807.9 288.8,805.4 289.1,803.0 289.4,800.6 289.7,798.1 290.1,795.6 290.5,793.1 290.9,790.7 291.3,788.2 291.8,785.7 292.4,783.3 293.0,780.9 293.6,778.4 294.3,776.0 295.0,773.7 295.8,771.4 296.6,769.0 297.5,766.6 298.5,764.1 299.6,761.9 300.7,759.7 301.9,757.4 303.3,755.5 305.0,753.8 306.8,752.0 308.9,750.2 311.1,749.5 313.4,749.1 315.9,747.9 318.3,747.0 320.8,747.0 323.2,746.9 325.7,746.2 328.2,745.9 330.7,745.6 333.1,745.3 335.6,745.4 338.1,745.3 340.6,745.1 343.1,744.7 345.6,744.5 348.1,744.6 350.6,744.2 353.1,743.7 355.6,743.5 358.0,743.1 360.5,742.7 363.0,742.2 365.5,742.2 367.9,742.0 370.4,741.3 372.9,740.8 375.3,740.5 377.8,740.2 380.3,739.7 382.7,739.0 385.2,738.6 387.6,738.3 390.0,737.7 392.5,736.9 394.9,736.1 397.3,735.3 399.7,734.3 402.1,734.0 404.5,733.8 406.9,733.0 409.4,732.6 411.8,732.3 414.2,731.4 416.7,730.7 419.1,730.0 421.4,728.7 423.6,727.4 425.8,726.3 427.8,725.2 429.8,723.5 431.8,721.8 433.7,720.5 435.6,719.1 437.3,717.5 439.1,715.6 441.0,713.7 443.0,712.4 445.0,711.0 447.0,709.3 449.0,707.6 451.0,706.0 453.1,704.2 455.3,702.7 457.5,701.7 459.8,701.1 462.2,700.7 464.5,699.8 466.8,698.4 469.2,697.4 471.5,696.8 473.8,696.0 476.1,695.2 478.3,694.3 480.5,693.1 482.6,691.4 484.5,689.4 486.2,687.4 487.9,685.3 489.5,683.7 491.1,681.9 492.8,679.9 494.5,678.2 496.3,676.5 498.0,674.7 499.8,672.9 501.5,671.2 503.3,669.5 504.9,667.7 506.5,665.7 508.0,663.6 509.5,661.4 510.9,659.5 512.3,657.6 513.6,655.5 514.9,653.2 516.1,650.9 517.4,648.8 518.6,646.6 519.7,644.3 520.9,642.3 522.0,640.3 523.1,637.9 524.2,635.6 525.2,633.4 526.2,631.2 527.2,628.8 528.2,626.5 529.2,624.2 530.2,622.0 531.2,619.6 532.1,617.2 533.1,614.9 534.1,612.5 535.0,610.1 536.0,607.8 536.9,605.5 537.8,603.3 538.7,601.0 539.6,598.6 540.4,596.4 541.2,594.0 542.0,591.4 542.7,589.0 543.4,586.7 544.1,584.3 544.8,581.9 545.4,579.6 546.0,577.1 546.6,574.6 547.2,572.2 547.8,569.9 548.3,567.5 548.8,564.9 549.4,562.5 549.9,560.1 550.4,557.7 551.0,555.3 551.5,552.8 552.0,550.2 552.5,547.8 553.0,545.4 553.4,543.0 553.9,540.5 554.4,538.1 554.8,535.7 555.3,533.2 555.7,530.7 556.2,528.2 556.6,525.7 557.1,523.3 557.5,520.8 557.9,518.3 558.3,515.9 558.8,513.4 559.2,510.9 559.6,508.4 560.0,506.0 560.4,503.5 560.9,501.1 561.3,498.6 561.7,496.1 562.1,493.7 562.5,491.2 562.8,488.8 563.2,486.3 563.6,483.9 563.9,481.4 564.3,478.9 564.6,476.3 564.9,473.8 565.3,471.4 565.6,468.9 565.9,466.5 566.2,464.0 566.5,461.5 566.8,459.0 567.0,456.5 567.3,454.0 567.6,451.6 567.8,449.1 568.1,446.6 568.4,444.1 568.6,441.7 568.9,439.2 569.1,436.6 569.4,434.1 569.6,431.7 569.9,429.2 570.1,426.7 570.4,424.3 570.6,421.7 570.9,419.2 571.1,416.8 571.4,414.3 571.6,411.8 571.8,409.3 572.1,406.8 572.3,404.3 572.5,401.8 572.7,399.3 573.0,396.8 573.2,394.4 573.4,391.9 573.6,389.4 573.8,386.8 574.0,384.4 574.2,381.9 574.3,379.4 574.5,376.9 574.7,374.4 574.9,371.9 575.0,369.4 575.2,366.9 575.3,364.4 575.5,361.9 575.7,359.4 575.8,356.9 576.0,354.4 576.1,351.9 576.3,349.4 576.4,346.9 576.6,344.5 576.7,342.0 576.8,339.5 577.0,337.0 577.1,334.5 577.3,332.0 577.4,329.4 577.6,327.0 577.7,324.5 577.9,322.0 578.0,319.5 578.2,317.0 578.4,314.5 578.5,312.0 578.7,309.5 578.9,307.0 579.0,304.5 579.2,302.0 579.4,299.6 579.6,297.1 579.8,294.6 579.9,292.1 580.1,289.6 580.3,287.1 580.5,284.6 580.7,282.1 580.9,279.6 581.1,277.1 581.3,274.7 581.5,272.1 581.7,269.6 581.9,267.2 582.1,264.7 582.3,262.2 582.5,259.7 582.7,257.2 582.9,254.7 583.1,252.2 583.3,249.7 583.5,247.2 583.7,244.7 583.9,242.2 584.0,239.7 584.2,237.2 584.4,234.7 584.6,232.2 584.7,229.8 584.9,227.3 585.0,224.8 585.2,222.3 585.3,219.8 585.5,217.3 585.6,214.8 585.8,212.3 585.9,209.8 586.0,207.3 586.2,204.8 586.3,202.3 586.4,199.8 586.6,197.3 586.7,194.8 586.8,192.3 587.0,189.8 587.1,187.3 587.2,184.8 587.4,182.3 587.5,179.8 587.6,177.3 587.7,174.8 587.9,172.3 588.0,169.8 588.1,167.3 588.3,164.8 588.4,162.3 588.5,159.9 588.7,157.4 588.8,154.9 588.9,152.4 589.1,149.9 589.2,147.4 589.4,144.9 589.5,142.4 589.7,139.9 589.8,137.4 590.0,134.9 590.1,132.4 590.3,129.9 590.5,127.4 590.6,124.9 590.8,122.4 591.0,119.9 591.1,117.4 591.3,114.9 591.5,112.4 591.7,109.9 591.8,107.5 592.0,105.0 592.2,102.5 592.4,100.0 592.6,97.5 592.7,95.0 592.9,92.5 593.1,90.0 593.1,90.0" stroke="#008000"/>
<path d="M288.0,125.3 288.0,127.8 288.0,130.3 288.0,132.8 288.0,135.3 288.0,137.8 288.0,140.3 288.0,142.8 288.0,145.3 288.0,147.8 288.0,150.3 288.0,152.8 288.0,155.3 288.0,157.8 288.0,160.3 288.0,162.8 288.0,165.3 288.0,167.8 288.0,170.3 288.0,172.8 288.0,175.3 288.0,177.8 288.0,180.3 288.0,182.8 288.0,185.3 288.0,187.8 288.0,190.3 288.1,192.8 288.1,195.3 288.1,197.8 288.1,200.3 288.1,202.8 288.1,205.3 288.1,207.8 288.1,210.3 288.1,212.8 288.1,215.3 288.1,217.8 288.1,220.3 288.1,222.8 288.1,225.3 288.1,227.8 288.1,230.3 288.1,232.8 288.1,235.3 288.1,237.8 288.1,240.3 288.1,242.8 288.1,245.3 288.1,247.8 288.1,250.3 288.1,252.8 288.1,255.3 288.1,257.8 288.1,260.3 288.1,262.8 288.1,265.3 288.1,267.8 288.1,270.3 288.1,272.8 288.1,275.3 288.1,277.8 288.2,280.3 288.2,282.8 288.2,285.3 288.2,287.8 288.2,290.3 288.2,292.8 288.2,295.3 288.2,297.8 288.2,300.3 288.2,302.8 288.2,305.3 288.2,307.8 288.2,310.3 288.2,312.8 288.2,315.3 288.3,317.8 288.3,320.3 288.3,322.8 288.3,325.3 288.3,327.8 288.3,330.3 288.3,332.8 288.3,335.3 288.3,337.8 288.4,340.3 288.4,342.8 288.4,345.3 288.4,347.8 288.4,350.3 288.4,352.8 288.4,355.3 288.5,357.8 288.5,360.3 288.5,362.8 288.5,365.3 288.5,367.8 288.5,370.3 288.6,372.8 288.6,375.3 288.6,377.8 288.6,380.3 288.6,382.8 288.7,385.3 288.7,387.8 288.7,390.3 288.7,392.8 288.8,395.3 288.8,397.8 288.8,400.3 288.8,402.8 288.9,405.3 288.9,407.8 288.9,410.3 288.9,412.8 289.0,415.3 289.0,417.8 289.0,420.3 289.1,422.8 289.1,425.3 289.1,427.8 289.2,430.3 289.2,432.8 289.3,435.3 289.3,437.8 289.4,440.3 289.4,442.8 289.5,445.3 289.5,447.8 289.6,450.3 289.6,452.8 289.7,455.3 289.7,457.8 289.8,460.3 289.9,462.8 289.9,465.3 290.0,467.8 290.0,470.3 290.1,472.8 290.2,475.3 290.2,477.8 290.3,480.3 290.3,482.8 290.4,485.3 290.5,487.8 290.5,490.3 290.6,492.8 290.7,495.3 290.7,497.8 290.8,500.3 290.9,502.8 291.0,505.3 291.0,507.8 291.1,510.3 291.2,512.8 291.3,515.3 291.4,517.7 291.4,520.3 291.5,522.8 291.6,525.3 291.7,527.8 291.8,530.3 291.9,532.8 292.0,535.3 292.1,537.8 292.2,540.3 292.3,542.8 292.4,545.3 292.5,547.8 292.6,550.2 292.7,552.7 292.8,555.2 293.0,557.7 293.1,560.2 293.2,562.7 293.3,565.2 293.4,567.7 293.5,570.2 293.6,572.7 293.8,575.2 293.9,577.7 294.0,580.2 294.1,582.7 294.3,585.2 294.4,587.7 294.5,590.2 294.6,592.7 294.8,595.2 294.9,597.7 295.0,600.2 295.2,602.7 295.3,605.2 295.5,607.7 295.6,610.2 295.8,612.6 295.9,615.2 296.1,617.7 296.2,620.2 296.4,622.7 296.5,625.1 296.7,627.6 296.8,630.1 297.0,632.6 297.1,635.1 297.3,637.6 297.5,640.1 297.6,642.6 297.8,645.1 298.0,647.6 298.1,650.1 298.3,652.6 298.5,655.1 298.7,657.6 298.9,660.0 299.1,662.6 299.2,665.1 299.4,667.6 299.6,670.0 299.8,672.5 300.1,675.0 300.3,677.5 300.5,680.0 300.7,682.5 301.0,685.1 301.3,687.5 301.6,689.9 301.9,692.4 302.3,694.9 302.7,697.3 303.1,699.6 303.6,702.2 304.0,704.7 304.4,707.2 304.8,709.7 305.1,712.2 305.4,714.6 305.7,717.1 305.9,719.6 306.1,722.1 306.4,724.6 306.6,727.1 306.8,729.6 307.0,732.0 307.3,734.5 307.6,736.9 307.9,739.5 308.2,742.0 308.6,744.5 308.9,746.9 309.3,749.3 309.6,751.8 310.0,754.3 310.4,756.8 310.8,759.2 311.2,761.7 311.6,764.2 312.0,766.6 312.4,769.1 312.8,771.6 313.3,774.0 313.8,776.5 314.3,779.0 314.9,781.5 315.4,783.9 316.1,786.3 316.9,788.8 317.8,791.1 318.8,793.3 320.0,795.5 321.5,797.5 323.1,799.3 324.9,800.9 326.7,802.5 328.7,803.9 330.7,805.4 332.7,807.0 334.8,808.6 336.9,810.4 339.0,811.9 341.2,812.9 343.3,813.6 345.4,814.9 347.4,816.9 349.3,818.6 351.3,820.0 353.5,821.0 356.0,821.4 358.5,821.6 360.9,822.2 363.4,823.4 365.8,823.7 368.3,823.6 370.6,824.2 373.0,825.3 375.3,826.4 377.7,827.4 380.0,828.3 382.3,829.1 384.7,829.6 387.1,830.4 389.5,831.3 391.9,832.1 394.2,832.8 396.5,833.4 398.9,834.1 401.3,835.1 403.7,835.9 406.2,836.3 408.7,836.8 411.1,837.3 413.6,837.6 416.0,838.5 418.4,839.6 420.8,840.3 423.2,840.7 425.7,840.6 428.2,840.5 430.6,840.8 433.1,841.5 435.6,842.1 438.0,842.5 440.4,843.2 442.8,844.0 445.2,845.0 447.6,845.6 450.1,845.3 452.5,845.2 455.0,845.3 457.4,845.4 459.9,845.6 462.4,845.8 464.9,846.0 467.3,846.0 469.8,845.9 472.2,846.6 474.6,847.7 477.0,848.6 479.4,849.4 481.6,850.6 483.7,851.9 485.9,853.1 488.1,854.4 490.5,855.0 492.9,854.6 495.2,853.8 497.6,852.9 500.0,852.4 502.5,852.2 505.0,852.3 507.5,853.1 509.9,853.9 512.4,854.3 514.8,854.7 515.0,855.0" stroke="#00f"/>
<path d="M288.0,820.0 288.1,817.5 288.2,815.0 288.3,812.5 288.4,810.0 288.6,807.5 288.7,805.0 288.9,802.6 289.2,800.0 289.4,797.5 289.6,795.0 289.9,792.6 290.1,790.1 290.4,787.6 290.8,785.1 291.1,782.7 291.5,780.2 291.9,777.7 292.3,775.3 292.7,772.9 293.2,770.2 293.7,767.8 294.2,765.4 294.7,763.0 295.3,760.6 296.0,758.2 296.7,755.9 297.6,753.6 298.6,751.5 299.7,749.3 300.9,747.1 302.2,744.8 303.7,742.8 305.4,740.9 307.3,739.1 309.5,737.8 311.7,736.9 314.1,736.2 316.5,735.3 318.9,734.3 321.3,733.8 323.7,733.2 326.1,732.3 328.5,731.5 331.0,730.8 333.4,730.3 335.8,730.0 338.3,729.4 340.6,728.8 343.0,728.1 345.3,727.1 347.6,725.9 349.9,724.7 352.2,723.8 354.5,723.2 356.8,722.5 359.2,721.5 361.6,720.8 364.0,720.0 366.3,719.2 368.7,718.7 371.1,717.9 373.4,716.8 375.8,715.9 378.2,715.3 380.5,714.6 382.8,713.5 385.1,712.5 387.2,711.1 389.2,709.4 391.1,707.6 392.9,705.9 394.8,704.3 396.7,702.6 398.5,700.9 400.3,699.0 402.2,697.2 404.1,695.6 406.1,694.3 408.1,693.0 410.2,691.5 412.3,690.2 414.5,688.9 416.5,687.5 418.4,686.0 420.1,684.2 421.9,682.5 423.9,681.0 426.0,679.9 428.1,678.5 430.2,676.9 432.1,675.4 434.0,673.4 435.6,671.3 437.0,669.4 438.3,667.5 439.6,665.5 440.8,663.2 442.0,660.8 443.2,658.6 444.4,656.6 445.5,654.5 446.5,652.2 447.6,649.7 448.7,647.3 449.9,645.2 451.0,643.1 452.2,640.8 453.3,638.5 454.5,636.1 455.7,633.9 456.8,631.9 458.0,629.9 459.1,627.6 460.2,625.3 461.3,623.2 462.4,621.0 463.5,618.7 464.5,616.3 465.6,614.1 466.6,611.9 467.6,609.5 468.6,607.2 469.5,604.9 470.5,602.6 471.4,600.3 472.3,598.0 473.2,595.8 474.1,593.4 475.0,591.0 475.8,588.8 476.7,586.3 477.5,583.8 478.3,581.5 479.1,579.2 479.8,576.8 480.6,574.3 481.3,571.8 482.0,569.5 482.7,567.1 483.4,564.7 484.1,562.4 484.7,560.0 485.4,557.5 486.0,555.0 486.6,552.5 487.2,550.1 487.8,547.7 488.3,545.3 488.9,542.9 489.4,540.5 489.9,538.1 490.4,535.5 490.9,533.1 491.4,530.8 491.9,528.4 492.4,525.8 492.8,523.2 493.3,520.7 493.8,518.3 494.3,515.9 494.8,513.6 495.3,511.0 495.8,508.6 496.3,506.2 496.8,503.7 497.3,501.2 497.7,498.7 498.2,496.3 498.7,493.9 499.1,491.4 499.5,488.9 500.0,486.5 500.4,484.0 500.8,481.4 501.1,479.0 501.5,476.6 501.9,474.1 502.2,471.7 502.6,469.2 502.9,466.7 503.2,464.2 503.6,461.7 503.9,459.2 504.2,456.7 504.5,454.3 504.8,451.8 505.1,449.3 505.4,446.8 505.7,444.3 506.0,441.8 506.3,439.3 506.5,436.9 506.8,434.4 507.1,432.0 507.4,429.4 507.6,426.9 507.9,424.5 508.1,422.0 508.4,419.5 508.6,417.0 508.8,414.5 509.0,412.0 509.2,409.6 509.5,407.1 509.7,404.6 509.9,402.1 510.1,399.6 510.3,397.1 510.5,394.6 510.7,392.1 510.9,389.6 511.1,387.2 511.4,384.6 511.6,382.1 511.8,379.7 512.1,377.2 512.3,374.7 512.5,372.2 512.8,369.7 513.0,367.2 513.3,364.7 513.5,362.2 513.8,359.8 514.0,357.3 514.3,354.8 514.5,352.3 514.8,349.8 515.0,347.3 515.3,344.8 515.5,342.3 515.8,339.8 516.0,337.4 516.3,334.9 516.5,332.4 516.7,329.9 517.0,327.4 517.2,324.9 517.5,322.4 517.7,320.0 517.9,317.4 518.1,314.9 518.4,312.5 518.6,310.0 518.8,307.5 519.0,305.0 519.2,302.5 519.4,300.0 519.6,297.5 519.8,295.0 520.0,292.5 520.2,290.1 520.4,287.6 520.5,285.1 520.7,282.5 520.9,280.0 521.1,277.6 521.3,275.1 521.4,272.6 521.6,270.1 521.8,267.6 521.9,265.1 522.1,262.6 522.3,260.1 522.4,257.6 522.6,255.1 522.7,252.6 522.9,250.1 523.1,247.6 523.2,245.2 523.4,242.7 523.5,240.2 523.7,237.6 523.9,235.2 524.0,232.7 524.2,230.2 524.3,227.7 524.5,225.2 524.7,222.7 524.8,220.2 525.0,217.7 525.1,215.2 525.3,212.7 525.4,210.2 525.6,207.7 525.7,205.2 525.9,202.7 526.0,200.2 526.2,197.7 526.3,195.2 526.5,192.7 526.6,190.2 526.8,187.7 526.9,185.2 527.1,182.7 527.2,180.3 527.4,177.8 527.5,175.3 527.7,172.8 527.8,170.3 528.0,167.8 528.1,165.3 528.2,162.8 528.4,160.3 528.6,157.8 528.7,155.3 528.9,152.8 529.0,150.3 529.2,147.9 529.3,145.4 529.5,142.9 529.6,140.4 529.8,137.8 530.0,135.4 530.1,132.9 530.3,130.3 530.5,127.9 530.6,125.4 530.8,122.9 531.0,120.4 531.2,117.9 531.3,115.4 531.5,112.9 531.7,110.4 531.9,107.9 532.1,105.4 532.3,102.9 532.4,100.4 532.6,97.9 532.8,95.5 533.0,92.9 533.2,90.4 533.2,90.0" stroke="#00f"/>
<path d="M364,822.5 L364,813.2" stroke="#00f" stroke-width="7.2"/>
<path d="M388.1,830.5 L388.1,824.6" stroke="#00f" stroke-width="7.2"/>
<path d="M478.3,806 L478.4,804.2" stroke="#f00" stroke-width="4.5"/>
</g>
<g stroke="#000" stroke-width="3.4" fill="none">
<path d="M248.35,11.47 V936.85"/>
<path d="M237.15,935.15 H1393.58"/>
<path d="M228.75,858.25 H248.35"/>
<path d="M237.15,781.42 H248.35"/>
<path d="M228.75,704.60 H248.35"/>
<path d="M237.15,627.77 H248.35"/>
<path d="M228.75,550.95 H248.35"/>
<path d="M237.15,474.12 H248.35"/>
<path d="M228.75,397.30 H248.35"/>
<path d="M237.15,320.48 H248.35"/>
<path d="M228.75,243.65 H248.35"/>
<path d="M237.15,166.82 H248.35"/>
<path d="M228.75,90.00 H248.35"/>
<path d="M237.15,13.17 H248.35"/>
<path d="M287.75,935.15 V954.15"/>
<path d="M388.12,935.15 V945.15"/>
<path d="M488.50,935.15 V954.15"/>
<path d="M588.88,935.15 V945.15"/>
<path d="M689.25,935.15 V954.15"/>
<path d="M789.62,935.15 V945.15"/>
<path d="M890.00,935.15 V954.15"/>
<path d="M990.38,935.15 V945.15"/>
<path d="M1090.75,935.15 V954.15"/>
<path d="M1191.12,935.15 V945.15"/>
<path d="M1291.50,935.15 V954.15"/>
<path d="M1391.88,935.15 V945.15"/>
</g>
<text x="136.47" y="874.75" font-size="58.00">0.0</text>
<text x="136.47" y="721.10" font-size="58.00">0.5</text>
<clipPath id="c1_1"><rect x="132.47" y="509.45" width="88.63" height="51.33"/><rect x="153.46" y="559.33" width="6.09" height="9.28"/><rect x="169.99" y="559.33" width="51.11" height="25.52"/></clipPath>
<text x="136.47" y="567.45" font-size="58.00" dx="2.90 -2.90" clip-path="url(#c1_1)">1.0</text>
<clipPath id="c1_2"><rect x="132.47" y="355.80" width="88.63" height="51.33"/><rect x="153.46" y="405.68" width="6.09" height="9.28"/><rect x="169.99" y="405.68" width="51.11" height="25.52"/></clipPath>
<text x="136.47" y="413.80" font-size="58.00" dx="2.90 -2.90" clip-path="url(#c1_2)">1.5</text>
<text x="136.47" y="260.15" font-size="58.00">2.0</text>
<text x="136.47" y="106.50" font-size="58.00">2.5</text>
<text x="271.62" y="1009.80" font-size="58.00">0</text>
<clipPath id="c1_3"><rect x="436.11" y="951.80" width="104.77" height="51.33"/><rect x="457.11" y="1001.68" width="6.09" height="9.28"/><rect x="473.64" y="1001.68" width="67.25" height="25.52"/></clipPath>
<text x="440.11" y="1009.80" font-size="58.00" dx="2.90 -2.90" clip-path="url(#c1_3)">100</text>
<text x="640.86" y="1009.80" font-size="58.00">200</text>
<text x="841.61" y="1009.80" font-size="58.00">300</text>
<text x="1042.36" y="1009.80" font-size="58.00">400</text>
<text x="1243.11" y="1009.80" font-size="58.00">500</text>
<text x="556.68" y="1114.09" font-size="69.35" textLength="527.77" lengthAdjust="spacingAndGlyphs">Capacity (mAh/g)</text>
<text transform="translate(56.90,683.84) rotate(-90)" font-size="68.80" textLength="335.98" lengthAdjust="spacingAndGlyphs">Voltage (V)</text>
<g stroke-linecap="round" stroke-width="7">
<path d="M931.1,184.5 H1057.15" stroke="#000"/>
<path d="M931.1,262.6 H1057.15" stroke="#f00"/>
<path d="M931.1,340.4 H1057.15" stroke="#008000"/>
<path d="M931.1,418.3 H1057.15" stroke="#00f"/>
</g>
<clipPath id="c1_4"><rect x="1068.00" y="125.85" width="262.00" height="70.89"/><rect x="1088.85" y="195.30" width="6.04" height="9.20"/><rect x="1105.23" y="195.30" width="224.76" height="34.50"/></clipPath>
<text clip-path="url(#c1_4)"><tspan x="1072.00" y="203.35" font-size="57.50" dx="2.88">1</tspan><tspan x="1105.18" y="175.26" font-size="33.40">st </tspan><tspan x="1140.76" y="203.64" font-size="55.71" textLength="130.62" lengthAdjust="spacingAndGlyphs">cycle</tspan></text>
<text><tspan x="1072.54" y="281.50" font-size="58.21" textLength="32.88" lengthAdjust="spacingAndGlyphs">2</tspan><tspan x="1104.71" y="253.27" font-size="33.88">nd </tspan><tspan x="1158.47" y="282.00" font-size="55.44" textLength="130.41" lengthAdjust="spacingAndGlyphs">cycle</tspan></text>
<text><tspan x="1073.51" y="358.73" font-size="57.49" textLength="31.85" lengthAdjust="spacingAndGlyphs">5</tspan><tspan x="1106.53" y="331.06" font-size="31.23">th </tspan><tspan x="1148.56" y="359.40" font-size="55.44" textLength="130.62" lengthAdjust="spacingAndGlyphs">cycle</tspan></text>
<clipPath id="c1_5"><rect x="1068.00" y="359.70" width="262.00" height="70.89"/><rect x="1088.85" y="429.15" width="6.04" height="9.20"/><rect x="1105.23" y="429.15" width="224.76" height="34.50"/></clipPath>
<text clip-path="url(#c1_5)"><tspan x="1072.00" y="437.20" font-size="57.50" dx="2.88 -2.88">10</tspan><tspan x="1138.13" y="409.66" font-size="31.23">th </tspan><tspan x="1180.78" y="437.40" font-size="55.44" textLength="129.90" lengthAdjust="spacingAndGlyphs">cycle</tspan></text>
</g>
<g id="panel-b">
<text x="1.22" y="1180.24" font-size="54.26" textLength="66.15" lengthAdjust="spacingAndGlyphs">(b)</text>
<g stroke="#000" stroke-width="3.1" fill="none">
<path d="M252.25,1260.70 V1390.0"/>
<path d="M252.25,1404.6 V2166.75"/>
<path d="M242.35,2165.2 H1363.23"/>
<path d="M234.05,1262.25 H252.25"/>
<path d="M242.35,1304.77 H252.25"/>
<path d="M234.05,1347.30 H252.25"/>
<path d="M242.35,1389.83 H252.25"/>
<path d="M234.05,2070.15 H252.25"/>
<path d="M242.35,1975.18 H252.25"/>
<path d="M234.05,1880.20 H252.25"/>
<path d="M242.35,1785.23 H252.25"/>
<path d="M234.05,1690.25 H252.25"/>
<path d="M242.35,1595.28 H252.25"/>
<path d="M234.05,1500.30 H252.25"/>
<path d="M291.00,2165.2 V2183.2"/>
<path d="M388.33,2165.2 V2183.2"/>
<path d="M485.67,2165.2 V2183.2"/>
<path d="M583.00,2165.2 V2183.2"/>
<path d="M680.34,2165.2 V2183.2"/>
<path d="M777.67,2165.2 V2183.2"/>
<path d="M875.01,2165.2 V2183.2"/>
<path d="M972.34,2165.2 V2183.2"/>
<path d="M1069.68,2165.2 V2183.2"/>
<path d="M1167.01,2165.2 V2183.2"/>
<path d="M1264.35,2165.2 V2183.2"/>
<path d="M1361.68,2165.2 V2183.2"/>
<path d="M339.67,2165.2 V2174.7"/>
<path d="M437.00,2165.2 V2174.7"/>
<path d="M534.34,2165.2 V2174.7"/>
<path d="M631.67,2165.2 V2174.7"/>
<path d="M729.01,2165.2 V2174.7"/>
<path d="M826.34,2165.2 V2174.7"/>
<path d="M923.68,2165.2 V2174.7"/>
<path d="M1021.01,2165.2 V2174.7"/>
<path d="M1118.35,2165.2 V2174.7"/>
<path d="M1215.68,2165.2 V2174.7"/>
<path d="M1313.02,2165.2 V2174.7"/>
<path d="M234.6,1397.4 L269.3,1382.55" stroke-width="2.9" stroke-linecap="round"/>
<path d="M234.6,1412.7 L269.3,1397.25" stroke-width="2.9" stroke-linecap="round"/>
</g>
<text x="115.48" y="1281.25" font-size="64.50">600</text>
<text x="115.48" y="1366.30" font-size="64.50">500</text>
<text x="115.48" y="1519.30" font-size="64.50">300</text>
<text x="115.48" y="1709.25" font-size="64.50">200</text>
<clipPath id="c1_6"><rect x="111.48" y="1834.70" width="115.62" height="57.08"/><rect x="134.38" y="1890.17" width="6.77" height="10.32"/><rect x="152.76" y="1890.17" width="74.34" height="28.38"/></clipPath>
<text x="115.48" y="1899.20" font-size="64.50" dx="3.23 -3.23" clip-path="url(#c1_6)">100</text>
<text x="187.23" y="2089.15" font-size="64.50">0</text>
<text x="273.06" y="2243.55" font-size="64.50">0</text>
<text x="370.40" y="2243.55" font-size="64.50">5</text>
<clipPath id="c1_7"><rect x="445.80" y="2179.05" width="79.75" height="57.08"/><rect x="468.70" y="2234.52" width="6.77" height="10.32"/><rect x="487.08" y="2234.52" width="38.47" height="28.38"/></clipPath>
<text x="449.80" y="2243.55" font-size="64.50" dx="3.23 -3.23" clip-path="url(#c1_7)">10</text>
<clipPath id="c1_8"><rect x="543.13" y="2179.05" width="79.75" height="57.08"/><rect x="566.03" y="2234.52" width="6.77" height="10.32"/><rect x="584.41" y="2234.52" width="38.47" height="28.38"/></clipPath>
<text x="547.13" y="2243.55" font-size="64.50" dx="3.23 -3.23" clip-path="url(#c1_8)">15</text>
<text x="644.47" y="2243.55" font-size="64.50">20</text>
<text x="741.80" y="2243.55" font-size="64.50">25</text>
<text x="839.14" y="2243.55" font-size="64.50">30</text>
<text x="936.47" y="2243.55" font-size="64.50">35</text>
<text x="1033.81" y="2243.55" font-size="64.50">40</text>
<text x="1131.14" y="2243.55" font-size="64.50">45</text>
<text x="1228.48" y="2243.55" font-size="64.50">50</text>
<text x="1325.81" y="2243.55" font-size="64.50">55</text>
<text x="566.05" y="2358.18" font-size="75.80" textLength="481.70" lengthAdjust="spacingAndGlyphs">Cycle Number</text>
<text transform="translate(71.95,2079.85) rotate(-90)" font-size="76.46" textLength="609.76" lengthAdjust="spacingAndGlyphs">Capacity (mAh/g)</text>
<g fill="#000">
<rect x="301.2" y="1320.3" width="18.6" height="18.6"/>
<rect x="320.6" y="1538.7" width="18.6" height="18.6"/>
<rect x="340.1" y="1642.5" width="18.6" height="18.6"/>
<rect x="359.6" y="1695.7" width="18.6" height="18.6"/>
<rect x="379.0" y="1752.0" width="18.6" height="18.6"/>
<rect x="398.5" y="1750.2" width="18.6" height="18.6"/>
<rect x="418.0" y="1787.7" width="18.6" height="18.6"/>
<rect x="437.4" y="1810.7" width="18.6" height="18.6"/>
<rect x="456.9" y="1890.2" width="18.6" height="18.6"/>
<rect x="476.4" y="1891.2" width="18.6" height="18.6"/>
<rect x="495.8" y="1846.5" width="18.6" height="18.6"/>
<rect x="515.3" y="1873.7" width="18.6" height="18.6"/>
<rect x="534.8" y="1869.0" width="18.6" height="18.6"/>
<rect x="554.2" y="1883.0" width="18.6" height="18.6"/>
<rect x="573.7" y="1889.5" width="18.6" height="18.6"/>
<rect x="593.2" y="1909.5" width="18.6" height="18.6"/>
<rect x="612.6" y="1913.2" width="18.6" height="18.6"/>
<rect x="632.1" y="1921.2" width="18.6" height="18.6"/>
<rect x="651.6" y="1922.0" width="18.6" height="18.6"/>
<rect x="671.0" y="1935.2" width="18.6" height="18.6"/>
<rect x="690.5" y="1914.0" width="18.6" height="18.6"/>
<rect x="710.0" y="1942.7" width="18.6" height="18.6"/>
<rect x="729.4" y="1936.0" width="18.6" height="18.6"/>
<rect x="748.9" y="1946.2" width="18.6" height="18.6"/>
<rect x="768.4" y="1955.0" width="18.6" height="18.6"/>
<rect x="787.8" y="1952.5" width="18.6" height="18.6"/>
<rect x="807.3" y="1953.2" width="18.6" height="18.6"/>
<rect x="826.8" y="1957.5" width="18.6" height="18.6"/>
<rect x="846.2" y="1956.7" width="18.6" height="18.6"/>
<rect x="865.7" y="1971.5" width="18.6" height="18.6"/>
<rect x="885.2" y="1955.0" width="18.6" height="18.6"/>
<rect x="904.6" y="1968.2" width="18.6" height="18.6"/>
<rect x="924.1" y="1975.2" width="18.6" height="18.6"/>
<rect x="943.6" y="1971.7" width="18.6" height="18.6"/>
<rect x="963.0" y="1982.5" width="18.6" height="18.6"/>
<rect x="982.5" y="1981.2" width="18.6" height="18.6"/>
<rect x="1002.0" y="1991.5" width="18.6" height="18.6"/>
<rect x="1021.4" y="1989.2" width="18.6" height="18.6"/>
<rect x="1040.9" y="1988.3" width="18.6" height="18.6"/>
<rect x="1060.4" y="1996.2" width="18.6" height="18.6"/>
<rect x="1079.8" y="1996.5" width="18.6" height="18.6"/>
<rect x="1099.3" y="1989.5" width="18.6" height="18.6"/>
<rect x="1118.8" y="1998.7" width="18.6" height="18.6"/>
<rect x="1138.2" y="2007.7" width="18.6" height="18.6"/>
<rect x="1157.7" y="1994.5" width="18.6" height="18.6"/>
<rect x="1177.2" y="2014.0" width="18.6" height="18.6"/>
<rect x="1196.6" y="1996.2" width="18.6" height="18.6"/>
<rect x="1216.1" y="1997.0" width="18.6" height="18.6"/>
<rect x="1235.6" y="1989.5" width="18.6" height="18.6"/>
<rect x="1255.0" y="1998.6" width="18.6" height="18.6"/>
<rect x="854.3" y="1497.0" width="19.4" height="19.4"/>
</g>
<g fill="#f00">
<circle cx="310.0" cy="1597.0" r="10.4"/>
<circle cx="329.4" cy="1634.0" r="10.4"/>
<circle cx="348.9" cy="1693.0" r="10.4"/>
<circle cx="368.4" cy="1731.8" r="10.4"/>
<circle cx="387.8" cy="1781.2" r="10.4"/>
<circle cx="407.3" cy="1779.0" r="10.4"/>
<circle cx="426.8" cy="1811.8" r="10.4"/>
<circle cx="446.2" cy="1833.8" r="10.4"/>
<circle cx="465.7" cy="1837.5" r="10.4"/>
<circle cx="485.2" cy="1865.8" r="10.4"/>
<circle cx="504.6" cy="1891.8" r="10.4"/>
<circle cx="524.1" cy="1887.5" r="10.4"/>
<circle cx="543.6" cy="1900.5" r="10.4"/>
<circle cx="563.0" cy="1905.0" r="10.4"/>
<circle cx="582.5" cy="1925.0" r="10.4"/>
<circle cx="602.0" cy="1928.0" r="10.4"/>
<circle cx="621.4" cy="1935.0" r="10.4"/>
<circle cx="640.9" cy="1934.5" r="10.4"/>
<circle cx="660.4" cy="1950.8" r="10.4"/>
<circle cx="679.8" cy="1928.0" r="10.4"/>
<circle cx="699.3" cy="1958.2" r="10.4"/>
<circle cx="718.8" cy="1947.0" r="10.4"/>
<circle cx="738.2" cy="1960.0" r="10.4"/>
<circle cx="757.7" cy="1968.0" r="10.4"/>
<circle cx="777.2" cy="1964.5" r="10.4"/>
<circle cx="796.6" cy="1965.0" r="10.4"/>
<circle cx="816.1" cy="1970.8" r="10.4"/>
<circle cx="835.6" cy="1970.0" r="10.4"/>
<circle cx="855.0" cy="1983.2" r="10.4"/>
<circle cx="874.5" cy="1967.0" r="10.4"/>
<circle cx="894.0" cy="1981.2" r="10.4"/>
<circle cx="913.4" cy="1987.5" r="10.4"/>
<circle cx="932.9" cy="1983.8" r="10.4"/>
<circle cx="952.4" cy="1994.2" r="10.4"/>
<circle cx="971.8" cy="1992.5" r="10.4"/>
<circle cx="991.3" cy="2003.0" r="10.4"/>
<circle cx="1010.8" cy="1999.5" r="10.4"/>
<circle cx="1030.2" cy="2001.2" r="10.4"/>
<circle cx="1049.7" cy="2007.7" r="10.4"/>
<circle cx="1069.2" cy="2007.5" r="10.4"/>
<circle cx="1088.6" cy="2001.2" r="10.4"/>
<circle cx="1108.1" cy="2011.2" r="10.4"/>
<circle cx="1127.6" cy="2010.8" r="10.4"/>
<circle cx="1147.0" cy="2007.0" r="10.4"/>
<circle cx="1166.5" cy="2001.2" r="10.4"/>
<circle cx="1186.0" cy="2008.2" r="10.4"/>
<circle cx="1205.4" cy="2007.5" r="10.4"/>
<circle cx="1224.9" cy="2011.2" r="10.4"/>
<circle cx="1244.4" cy="2007.0" r="10.4"/>
<circle cx="863.8" cy="1599.7" r="10.5"/>
</g>
<text x="969.67" y="1533.45" font-size="74.96" textLength="329.13" lengthAdjust="spacingAndGlyphs">discharge</text>
<text x="969.67" y="1626.25" font-size="74.96" textLength="232.68" lengthAdjust="spacingAndGlyphs">charge</text>
</g>
</svg></body></html>
